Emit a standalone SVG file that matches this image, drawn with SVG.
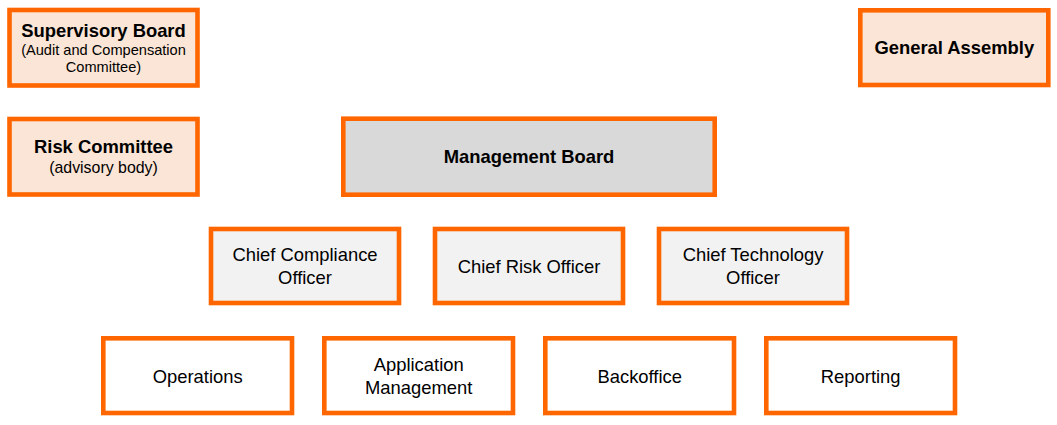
<svg xmlns="http://www.w3.org/2000/svg" width="1057" height="425" viewBox="0 0 1057 425">
<style>
.box{stroke:#FF6600;stroke-width:4.6}
.peach{fill:#FBE5D6}
.gray{fill:#D9D9D9}
.light{fill:#F2F2F2}
.white{fill:#FFFFFF}
text{font-family:"Liberation Sans",Arial,sans-serif;fill:#000;text-anchor:middle}
.b{font-weight:bold;font-size:18.4px}
.r{font-size:18.4px}
.s{font-size:14.6px}
.m{font-size:15.9px}
</style>
<rect width="1057" height="425" fill="#FFFFFF"/>
<g id="connectors"></g>
<g id="supervisory-board">
<rect class="box peach" x="9.5" y="10" width="188" height="75.5"/>
<text class="b" x="103.5" y="36.5">Supervisory Board</text>
<text class="s" x="103.5" y="55">(Audit and Compensation</text>
<text class="s" x="103.5" y="72">Committee)</text>
</g>
<g id="general-assembly">
<rect class="box peach" x="860.3" y="10.3" width="188" height="74.7"/>
<text class="b" x="954.3" y="54">General Assembly</text>
</g>
<g id="risk-committee">
<rect class="box peach" x="9.5" y="119" width="188" height="75.5"/>
<text class="b" x="103.5" y="153.3">Risk Committee</text>
<text class="m" x="103.5" y="173.3">(advisory body)</text>
</g>
<g id="management-board">
<rect class="box gray" x="343.3" y="118.7" width="371.4" height="76"/>
<text class="b" x="529" y="163.3">Management Board</text>
</g>
<g id="chief-compliance-officer">
<rect class="box light" x="211" y="229" width="188" height="74"/>
<text class="r" x="305" y="260.7">Chief Compliance</text>
<text class="r" x="305" y="284">Officer</text>
</g>
<g id="chief-risk-officer">
<rect class="box light" x="435" y="229" width="188" height="74"/>
<text class="r" x="529" y="272.5">Chief Risk Officer</text>
</g>
<g id="chief-technology-officer">
<rect class="box light" x="659" y="229" width="188" height="74"/>
<text class="r" x="753" y="260.7">Chief Technology</text>
<text class="r" x="753" y="284">Officer</text>
</g>
<g id="operations">
<rect class="box white" x="103.3" y="338.3" width="188.7" height="74.7"/>
<text class="r" x="197.7" y="382.7">Operations</text>
</g>
<g id="application-management">
<rect class="box white" x="324.3" y="338.3" width="188.7" height="74.7"/>
<text class="r" x="418.7" y="371">Application</text>
<text class="r" x="418.7" y="394">Management</text>
</g>
<g id="backoffice">
<rect class="box white" x="545.3" y="338.3" width="188.7" height="74.7"/>
<text class="r" x="639.7" y="382.7">Backoffice</text>
</g>
<g id="reporting">
<rect class="box white" x="766.3" y="338.3" width="188.7" height="74.7"/>
<text class="r" x="860.7" y="382.7">Reporting</text>
</g>
</svg>
